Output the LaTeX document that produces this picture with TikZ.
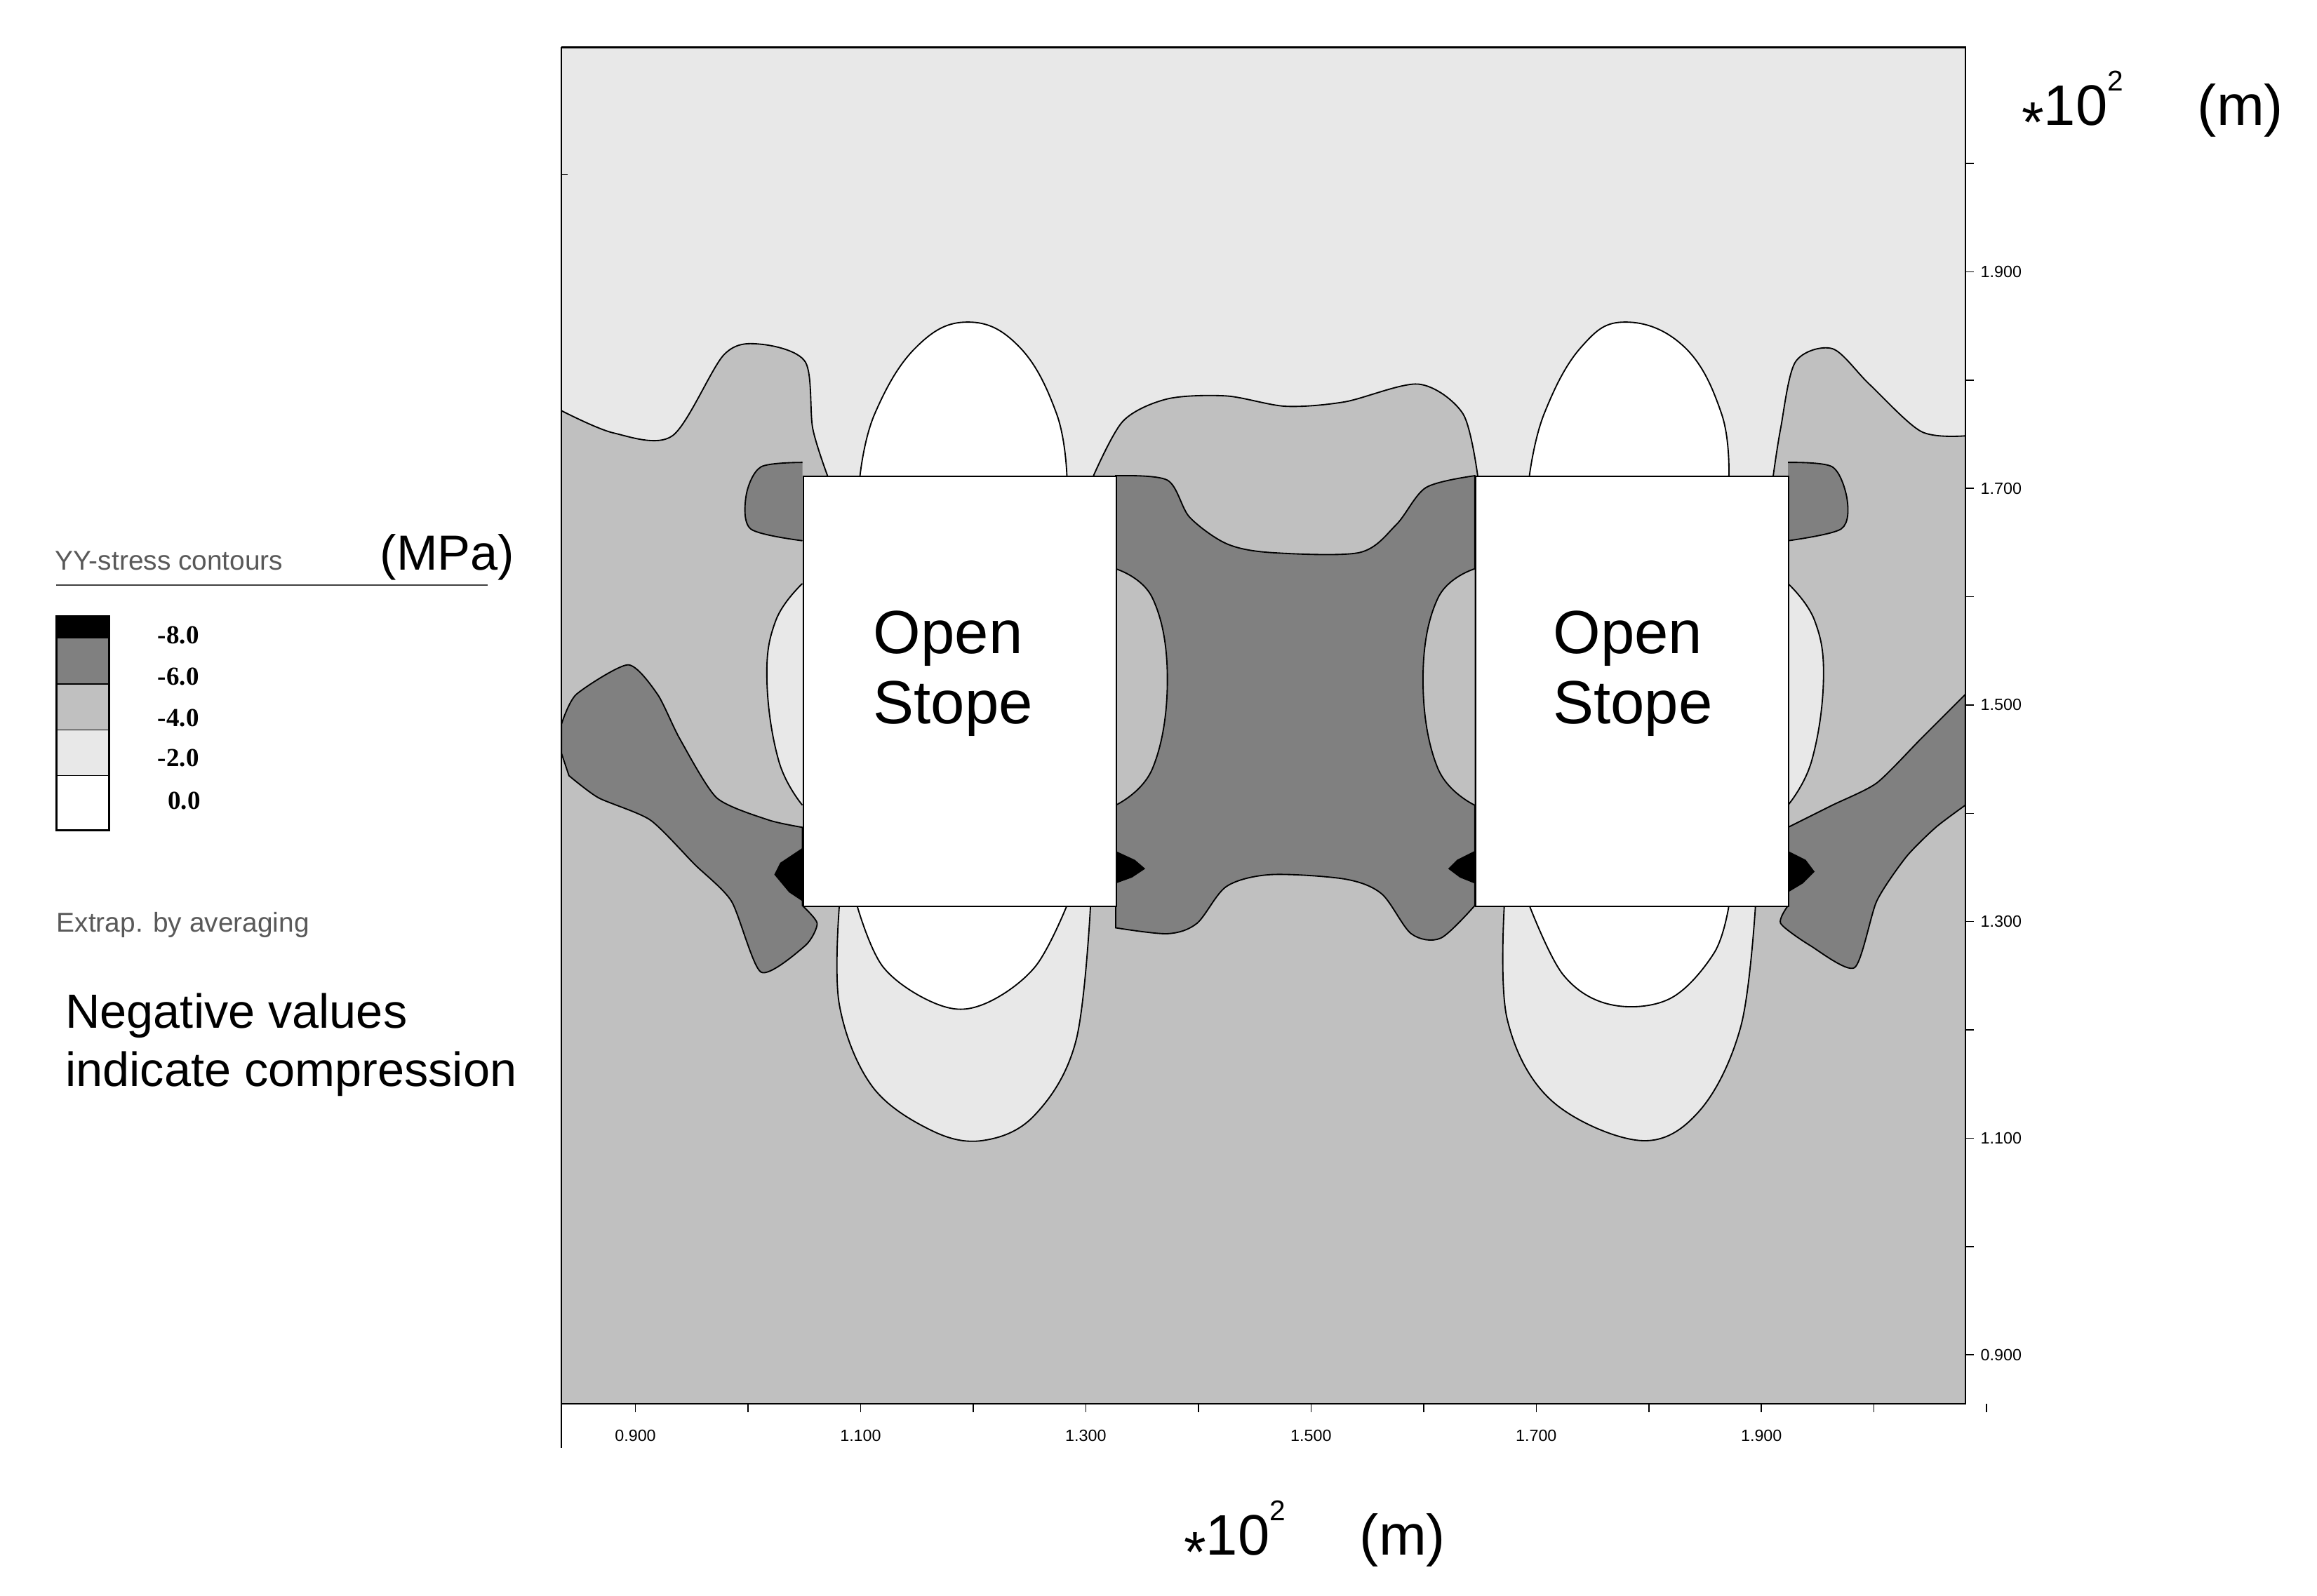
\documentclass[tikz,border=0pt]{standalone}
\usepackage{fontspec}
\setmainfont{Liberation Sans}
\newfontfamily\serifb{Liberation Serif}
\begin{document}
\begin{tikzpicture}[x=0.02cm,y=-0.02cm,
  ct/.style={draw=black,line width=0.5pt},
  tk/.style={font=\fontsize{6.3}{7}\selectfont,inner sep=0pt},
  lg/.style={font=\serifb\bfseries\fontsize{10}{12}\selectfont,inner sep=0pt,anchor=east}]
\definecolor{cA}{HTML}{E8E8E8}\definecolor{cB}{HTML}{C0C0C0}\definecolor{cC}{HTML}{808080}
\useasboundingbox (0,0) rectangle (1568,1080);
\fill[white] (0,0) rectangle (1568,1080);
% base
\fill[cB] (380,32) rectangle (1330,950);
% top light region
\fill[cA] (380,32) -- (380,278) -- plot[smooth,tension=0.5] coordinates{(380,278)(415,293)(455,295)(490,240)(515,233)(545,245)(550,290)(560,322)} -- (740,322)
 -- plot[smooth,tension=0.5] coordinates{(740,322)(760,285)(790,270)(830,268)(870,275)(910,272)(960,260)(990,280)(1000,322)} -- (1200,322)
 -- plot[smooth,tension=0.5] coordinates{(1200,322)(1205,290)(1215,245)(1240,236)(1265,260)(1300,292)(1330,295)} -- (1330,32) -- cycle;
\draw[ct] plot[smooth,tension=0.5] coordinates{(380,278)(415,293)(455,295)(490,240)(515,233)(545,245)(550,290)(560,322)};
\draw[ct] plot[smooth,tension=0.5] coordinates{(740,322)(760,285)(790,270)(830,268)(870,275)(910,272)(960,260)(990,280)(1000,322)};
\draw[ct] plot[smooth,tension=0.5] coordinates{(1200,322)(1205,290)(1215,245)(1240,236)(1265,260)(1300,292)(1330,295)};
% top white lobes
\fill[white,ct] plot[smooth,tension=0.7] coordinates{(582,322)(592,280)(620,235)(655,218)(690,235)(715,280)(722,322)};
\fill[white,ct] plot[smooth,tension=0.7] coordinates{(1035,322)(1045,280)(1070,235)(1100,218)(1140,235)(1165,280)(1170,322)};
% central dark
\fill[cC,ct] plot[smooth,tension=0.5] coordinates{(755,322)(790,325)(805,350)(830,368)(860,374)(920,374)(945,355)(965,330)(998,322)} -- (998,613)
 -- plot[smooth,tension=0.5] coordinates{(998,613)(975,635)(955,632)(935,605)(910,595)(860,592)(830,600)(810,625)(790,632)(755,628)} -- cycle;
\fill[cB,ct] plot[smooth,tension=0.7] coordinates{(755,385)(780,405)(790,460)(780,520)(755,545)};
\fill[cB,ct] plot[smooth,tension=0.7] coordinates{(998,385)(973,405)(963,460)(973,520)(998,545)};
% side light lobes
\fill[cA,ct] plot[smooth,tension=0.7] coordinates{(543,395)(525,420)(519,460)(527,515)(543,545)};
\fill[cA,ct] plot[smooth,tension=0.7] coordinates{(1210,395)(1228,420)(1234,460)(1226,515)(1210,545)};
% corner blobs
\fill[cC,ct] plot[smooth,tension=0.5] coordinates{(543,313)(515,316)(505,335)(508,358)(543,366)};
\fill[cC,ct] plot[smooth,tension=0.5] coordinates{(1210,313)(1240,316)(1250,338)(1246,358)(1210,366)};
% lower arms
\fill[cC,ct] plot[smooth,tension=0.4] coordinates{(543,560)(520,555)(485,540)(460,500)(445,470)(425,450)(390,470)(380,490)} -- (380,510)
 -- plot[smooth,tension=0.4] coordinates{(385,525)(405,540)(440,555)(470,585)(495,610)(515,658)(545,640)(553,625)(543,613)} -- cycle;
\fill[cC,ct] plot[smooth,tension=0.4] coordinates{(1210,560)(1240,545)(1270,530)(1300,500)(1330,470)} -- (1330,545)
 -- plot[smooth,tension=0.4] coordinates{(1330,545)(1310,560)(1290,580)(1270,610)(1255,655)(1225,640)(1205,625)(1210,613)} -- cycle;
% black blobs
\fill[black] (543,574) -- (528,584) -- (524,592) -- (534,604) -- (543,610) -- cycle;
\fill[black] (755,576) -- (768,582) -- (775,588) -- (766,594) -- (755,598) -- cycle;
\fill[black] (998,576) -- (986,582) -- (980,588) -- (988,594) -- (998,598) -- cycle;
\fill[black] (1210,576) -- (1222,582) -- (1228,590) -- (1220,598) -- (1210,604) -- cycle;
% bottom lobes
\fill[cA,ct] plot[smooth,tension=0.6] coordinates{(568,613)(568,680)(590,735)(630,765)(665,772)(700,755)(728,705)(738,613)};
\fill[white,ct] plot[smooth,tension=0.6] coordinates{(580,613)(598,655)(635,680)(665,680)(700,655)(722,613)};
\fill[cA,ct] plot[smooth,tension=0.6] coordinates{(1018,613)(1020,690)(1050,745)(1110,772)(1150,752)(1178,695)(1188,613)};
\fill[white,ct] plot[smooth,tension=0.6] coordinates{(1035,613)(1058,660)(1090,680)(1130,676)(1160,645)(1170,613)};
% stopes
\node[draw=black,fill=white,line width=0.6pt,minimum width=212*0.02cm,minimum height=291*0.02cm,anchor=north west,inner sep=0pt] (s1) at (543,322) {};
\node[draw=black,fill=white,line width=0.6pt,minimum width=212*0.02cm,minimum height=291*0.02cm,anchor=north west,inner sep=0pt] (s2) at (998,322) {};
\node[font=\fontsize{23.5}{27}\selectfont,align=left] at (645,456) {Open\\Stope};
\node[font=\fontsize{23.5}{27}\selectfont,align=left] at (1105,456) {Open\\Stope};
% frame
\draw[line width=0.6pt] (380,32) -- (1330,32) -- (1330,950) -- (380,950) -- (380,32);
\draw[line width=0.6pt] (380,950) -- (380,980);
\draw (380,118) -- (384,118);
\foreach \i in {0,...,12}{ \draw (430+\i*76.2,950) -- (430+\i*76.2,956); }
\foreach \v/\i in {0.900/0,1.100/1,1.300/2,1.500/3,1.700/4,1.900/5}{ \node[tk] at (430+\i*152.4,972) {\v}; }
\foreach \i in {0,...,11}{ \draw (1330,917-\i*73.3) -- (1336,917-\i*73.3); }
\foreach \v/\i in {0.900/0,1.100/1,1.300/2,1.500/3,1.700/4,1.900/5}{ \node[tk,anchor=west] at (1340,917-\i*146.6) {\v}; }
% axis units
\node[font=\fontsize{22}{26}\selectfont,anchor=west] (uy) at (1362,72) {\raisebox{-0.3em}{*}10\raisebox{0.6em}{\fontsize{11}{12}\selectfont 2}\hspace{1.3em}(m)};
\node[font=\fontsize{22}{26}\selectfont,anchor=west] (ux) at (795,1040) {\raisebox{-0.3em}{*}10\raisebox{0.6em}{\fontsize{11}{12}\selectfont 2}\hspace{1.3em}(m)};
% legend
\node[font=\fontsize{10.5}{12}\selectfont,text=black!65,anchor=base west,inner sep=0pt] at (37,386) {YY-stress contours};
\node[font=\fontsize{19}{22}\selectfont,anchor=base west,inner sep=0pt] at (257,386) {(MPa)};
\draw[black!75,line width=0.6pt] (38,396) -- (330,396);
\fill[black] (38,417) rectangle (74,432);
\fill[cC] (38,432) rectangle (74,463);
\fill[cB] (38,463) rectangle (74,494);
\fill[cA] (38,494) rectangle (74,525);
\draw (38,463) -- (74,463) (38,494) -- (74,494) (38,525) -- (74,525);
\draw[line width=0.8pt] (38,417) rectangle (74,562);
\node[lg] at (135,430) {-8.0};
\node[lg] at (135,458) {-6.0};
\node[lg] at (135,486) {-4.0};
\node[lg] at (135,513) {-2.0};
\node[lg] at (136,542) {0.0};
\node[font=\fontsize{10.5}{12}\selectfont,text=black!65,anchor=west,inner sep=0pt] at (38,626) {Extrap. by averaging};
\node[font=\fontsize{18.5}{22.5}\selectfont,align=left,anchor=north west,inner sep=0pt] at (44,672) {Negative values\\indicate compression};
\end{tikzpicture}
\end{document}
